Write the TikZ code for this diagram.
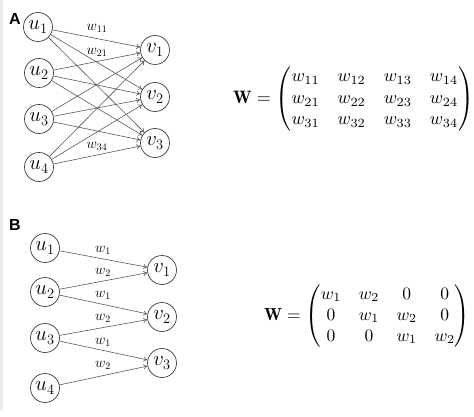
\documentclass[tikz,border=0pt]{standalone}
\usepackage{amsmath}
\usepackage{fontspec}
\newfontfamily\panelfont{Liberation Sans}
\usetikzlibrary{arrows.meta}
\begin{document}
\begin{tikzpicture}[x=1pt,y=-1pt,
  neuron/.style={circle,draw=black!75,line width=0.7pt,minimum size=29pt,inner sep=0pt,font=\huge},
  conn/.style={draw=black!65,line width=0.6pt,-{To[length=4pt,width=5pt]}},
  wlab/.style={font=\Large,inner sep=1pt},
  panel/.style={font=\panelfont\bfseries\fontsize{16}{19}\selectfont,inner sep=0pt},
  mat/.style={anchor=west,inner sep=0pt}]
\useasboundingbox (0,0) rectangle (474,417);
\fill[black!8] (0,0) rectangle (2.5,410);
% Panel A
\node[panel] (A) at (15,19) {A};
\node[neuron] (a1) at (38,27) {$u_1$};
\node[neuron] (a2) at (39,73) {$u_2$};
\node[neuron] (a3) at (39,119) {$u_3$};
\node[neuron] (a4) at (39,167) {$u_4$};
\node[neuron] (b1) at (155,50) {$v_1$};
\node[neuron] (b2) at (155,97) {$v_2$};
\node[neuron] (b3) at (155,143) {$v_3$};
\foreach \i in {1,2,3,4}{
  \foreach \j in {1,2,3}{
    \draw[conn] (a\i) -- (b\j);
  }
}
\node[wlab] (l11) at (97,28) {$w_{11}$};
\node[wlab] (l21) at (97,52) {$w_{21}$};
\node[wlab] (l34) at (97,146) {$w_{34}$};
\node[mat] (WA) at (233,99) {\scalebox{1.8}{$\mathbf{W} = \begin{pmatrix}
w_{11} & w_{12} & w_{13} & w_{14}\\
w_{21} & w_{22} & w_{23} & w_{24}\\
w_{31} & w_{32} & w_{33} & w_{34}
\end{pmatrix}$}};
% Panel B
\node[panel] (B) at (15,225) {B};
\node[neuron] (c1) at (45,248) {$u_1$};
\node[neuron] (c2) at (45,292) {$u_2$};
\node[neuron] (c3) at (45,338) {$u_3$};
\node[neuron] (c4) at (45,388) {$u_4$};
\node[neuron] (d1) at (162,270) {$v_1$};
\node[neuron] (d2) at (162,317) {$v_2$};
\node[neuron] (d3) at (162,363) {$v_3$};
\draw[conn] (c1) -- (d1);
\draw[conn] (c2) -- (d1);
\draw[conn] (c2) -- (d2);
\draw[conn] (c3) -- (d2);
\draw[conn] (c3) -- (d3);
\draw[conn] (c4) -- (d3);
\node[wlab] (m1) at (103,250) {$w_1$};
\node[wlab] (m2) at (103,272) {$w_2$};
\node[wlab] (m3) at (103,295) {$w_1$};
\node[wlab] (m4) at (103,318) {$w_2$};
\node[wlab] (m5) at (103,342) {$w_1$};
\node[wlab] (m6) at (103,365) {$w_2$};
\node[mat] (WB) at (264,316) {\scalebox{1.75}{$\mathbf{W} = \begin{pmatrix}
w_1 & w_2 & 0 & 0\\
0 & w_1 & w_2 & 0\\
0 & 0 & w_1 & w_2
\end{pmatrix}$}};
\end{tikzpicture}
\end{document}
